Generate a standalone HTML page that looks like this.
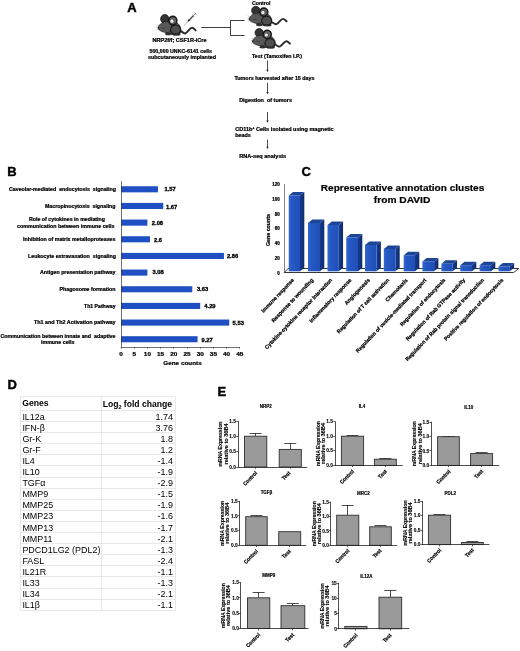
<!DOCTYPE html>
<html lang="en">
<head>
<meta charset="utf-8">
<title>Figure</title>
<style>
html,body{margin:0;padding:0;background:#fff;}
body{width:520px;height:651px;overflow:hidden;}
svg{display:block;font-family:'Liberation Sans', Arial, sans-serif;}
</style>
</head>
<body>
<svg width="520" height="651" viewBox="0 0 520 651" font-family="Liberation Sans, Arial, sans-serif">
<rect x="0" y="0" width="520" height="651" fill="#ffffff"/>
<g id="panelA">
<text x="127.30" y="12.20" font-size="13" font-weight="bold" text-anchor="start" fill="#000" stroke="#000" stroke-width="0.45" >A</text>
<g transform="translate(157.80 14.20) scale(1 1.05)">
<path d="M21.5 15.6 C24 15.8 25.6 19 27.6 18.2 C30.4 17 32 12.6 34.4 12.9 C36 13.1 36.8 14.4 37.8 15.4" fill="none" stroke="#2b2b2b" stroke-width="1.9" stroke-linecap="round"/>
<ellipse cx="7.0" cy="4.5" rx="4.2" ry="4.2" fill="#333" stroke="#111" stroke-width="0.7"/>
<path d="M9 8 C13 5.5 19 6.8 21.6 10.4 C23.6 13.2 23.6 17 21.6 19.2 L8 19.2 Z" fill="#585858" stroke="#1a1a1a" stroke-width="0.6"/>
<path d="M0.4 12.6 C1.6 9 5.6 6.8 9.4 7.2 C13.2 7.6 15 10.4 14.4 13.6 C13.8 16.8 10 18.2 6.4 17.2 C3.4 16.4 -0.2 15 0.4 12.6 Z" fill="#585858" stroke="#1a1a1a" stroke-width="0.6"/>
<ellipse cx="15.0" cy="6.1" rx="4.1" ry="4.1" fill="#606060" stroke="#151515" stroke-width="1.4"/>
<circle cx="14.1" cy="6.6" r="1.5" fill="#fff"/>
<circle cx="14.0" cy="6.8" r="0.5" fill="#aaa"/>
<ellipse cx="17.8" cy="14.8" rx="5.0" ry="4.5" fill="#4e4e4e" stroke="#111" stroke-width="1.0"/>
<ellipse cx="10.5" cy="18.9" rx="3" ry="1.0" fill="#333" stroke="#111" stroke-width="0.4"/>
<ellipse cx="18.5" cy="19.3" rx="4" ry="0.9" fill="#333" stroke="#111" stroke-width="0.4"/>
<circle cx="0.8" cy="13" r="0.8" fill="#111"/>
<path d="M4 12.6 C5 13.6 6.4 13.8 7.6 13.2" stroke="#222" stroke-width="0.5" fill="none"/>
<path d="M2.2 11.8 L-1.2 9.6 M2.2 12.6 L-1.6 12 M2.4 13.6 L-1 15" stroke="#555" stroke-width="0.3" fill="none"/>
</g>
<g fill="none"><line x1="184.2" y1="25.5" x2="188.4" y2="21" stroke="#555" stroke-width="0.45"/><line x1="188.2" y1="21.1" x2="189.4" y2="19.9" stroke="#1a1a1a" stroke-width="1.8"/><line x1="189.4" y1="19.9" x2="193.4" y2="15.7" stroke="#3c3c3c" stroke-width="1.7" stroke-dasharray="1.1 0.3"/><line x1="193.4" y1="15.7" x2="195.6" y2="13.5" stroke="#555" stroke-width="0.7"/><line x1="194.4" y1="12.7" x2="196.6" y2="14.7" stroke="#666" stroke-width="0.8"/><line x1="192.6" y1="14.7" x2="194.6" y2="16.6" stroke="#888" stroke-width="0.6"/></g>
<line x1="201.30" y1="27.50" x2="230.50" y2="27.50" stroke="#2a2a2a" stroke-width="0.9" />
<line x1="230.50" y1="20.10" x2="230.50" y2="35.90" stroke="#2a2a2a" stroke-width="0.9" />
<line x1="230.50" y1="20.50" x2="244.60" y2="20.50" stroke="#2a2a2a" stroke-width="0.9" />
<line x1="230.50" y1="35.50" x2="244.60" y2="35.50" stroke="#2a2a2a" stroke-width="0.9" />
<g transform="translate(248.80 6.00) scale(1 1.0)">
<path d="M21.5 15.6 C24 15.8 25.6 19 27.6 18.2 C30.4 17 32 12.6 34.4 12.9 C36 13.1 36.8 14.4 37.8 15.4" fill="none" stroke="#2b2b2b" stroke-width="1.9" stroke-linecap="round"/>
<ellipse cx="7.0" cy="4.5" rx="4.2" ry="4.2" fill="#333" stroke="#111" stroke-width="0.7"/>
<path d="M9 8 C13 5.5 19 6.8 21.6 10.4 C23.6 13.2 23.6 17 21.6 19.2 L8 19.2 Z" fill="#585858" stroke="#1a1a1a" stroke-width="0.6"/>
<path d="M0.4 12.6 C1.6 9 5.6 6.8 9.4 7.2 C13.2 7.6 15 10.4 14.4 13.6 C13.8 16.8 10 18.2 6.4 17.2 C3.4 16.4 -0.2 15 0.4 12.6 Z" fill="#585858" stroke="#1a1a1a" stroke-width="0.6"/>
<ellipse cx="15.0" cy="6.1" rx="4.1" ry="4.1" fill="#606060" stroke="#151515" stroke-width="1.4"/>
<circle cx="14.1" cy="6.6" r="1.5" fill="#fff"/>
<circle cx="14.0" cy="6.8" r="0.5" fill="#aaa"/>
<ellipse cx="17.8" cy="14.8" rx="5.0" ry="4.5" fill="#4e4e4e" stroke="#111" stroke-width="1.0"/>
<ellipse cx="10.5" cy="18.9" rx="3" ry="1.0" fill="#333" stroke="#111" stroke-width="0.4"/>
<ellipse cx="18.5" cy="19.3" rx="4" ry="0.9" fill="#333" stroke="#111" stroke-width="0.4"/>
<circle cx="0.8" cy="13" r="0.8" fill="#111"/>
<path d="M4 12.6 C5 13.6 6.4 13.8 7.6 13.2" stroke="#222" stroke-width="0.5" fill="none"/>
<path d="M2.2 11.8 L-1.2 9.6 M2.2 12.6 L-1.6 12 M2.4 13.6 L-1 15" stroke="#555" stroke-width="0.3" fill="none"/>
</g>
<g transform="translate(252.20 28.30) scale(1 1.0)">
<path d="M21.5 15.6 C24 15.8 25.6 19 27.6 18.2 C30.4 17 32 12.6 34.4 12.9 C36 13.1 36.8 14.4 37.8 15.4" fill="none" stroke="#2b2b2b" stroke-width="1.9" stroke-linecap="round"/>
<ellipse cx="7.0" cy="4.5" rx="4.2" ry="4.2" fill="#333" stroke="#111" stroke-width="0.7"/>
<path d="M9 8 C13 5.5 19 6.8 21.6 10.4 C23.6 13.2 23.6 17 21.6 19.2 L8 19.2 Z" fill="#585858" stroke="#1a1a1a" stroke-width="0.6"/>
<path d="M0.4 12.6 C1.6 9 5.6 6.8 9.4 7.2 C13.2 7.6 15 10.4 14.4 13.6 C13.8 16.8 10 18.2 6.4 17.2 C3.4 16.4 -0.2 15 0.4 12.6 Z" fill="#585858" stroke="#1a1a1a" stroke-width="0.6"/>
<ellipse cx="15.0" cy="6.1" rx="4.1" ry="4.1" fill="#606060" stroke="#151515" stroke-width="1.4"/>
<circle cx="14.1" cy="6.6" r="1.5" fill="#fff"/>
<circle cx="14.0" cy="6.8" r="0.5" fill="#aaa"/>
<ellipse cx="17.8" cy="14.8" rx="5.0" ry="4.5" fill="#4e4e4e" stroke="#111" stroke-width="1.0"/>
<ellipse cx="10.5" cy="18.9" rx="3" ry="1.0" fill="#333" stroke="#111" stroke-width="0.4"/>
<ellipse cx="18.5" cy="19.3" rx="4" ry="0.9" fill="#333" stroke="#111" stroke-width="0.4"/>
<circle cx="0.8" cy="13" r="0.8" fill="#111"/>
<path d="M4 12.6 C5 13.6 6.4 13.8 7.6 13.2" stroke="#222" stroke-width="0.5" fill="none"/>
<path d="M2.2 11.8 L-1.2 9.6 M2.2 12.6 L-1.6 12 M2.4 13.6 L-1 15" stroke="#555" stroke-width="0.3" fill="none"/>
</g>
<text x="252.00" y="4.60" font-size="4.95" font-weight="bold" text-anchor="start" fill="#000" stroke="#000" stroke-width="0.22" textLength="18.50" lengthAdjust="spacingAndGlyphs" >Control</text>
<text x="252.00" y="57.50" font-size="4.95" font-weight="bold" text-anchor="start" fill="#000" stroke="#000" stroke-width="0.22" textLength="50.00" lengthAdjust="spacingAndGlyphs" >Test (Tamoxifen I.P.)</text>
<text x="152.50" y="41.70" font-size="4.95" font-weight="bold" text-anchor="start" fill="#000" stroke="#000" stroke-width="0.22" textLength="54.00" lengthAdjust="spacingAndGlyphs" >NRP2f/f; CSF1R-iCre</text>
<text x="149.50" y="52.50" font-size="4.95" font-weight="bold" text-anchor="start" fill="#000" stroke="#000" stroke-width="0.22" textLength="62.50" lengthAdjust="spacingAndGlyphs" >500,000 UNKC-6141 cells</text>
<text x="148.00" y="59.10" font-size="4.95" font-weight="bold" text-anchor="start" fill="#000" stroke="#000" stroke-width="0.22" textLength="68.00" lengthAdjust="spacingAndGlyphs" >subcutaneously implanted</text>
<text x="234.50" y="79.60" font-size="4.95" font-weight="bold" text-anchor="start" fill="#000" stroke="#000" stroke-width="0.22" textLength="80.00" lengthAdjust="spacingAndGlyphs" >Tumors harvested after 15 days</text>
<text x="239.20" y="102.10" font-size="4.95" font-weight="bold" text-anchor="start" fill="#000" stroke="#000" stroke-width="0.22" textLength="52.80" lengthAdjust="spacingAndGlyphs" xml:space="preserve">Digestion  of tumors</text>
<text x="235.2" y="130.8" font-size="4.95" font-weight="bold" stroke="#000" stroke-width="0.22" textLength="98.5" lengthAdjust="spacingAndGlyphs">CD11b<tspan font-size="3.0" dy="-1.8">+</tspan><tspan dy="1.8"> Cells isolated using magnetic</tspan></text>
<text x="235.20" y="137.20" font-size="4.95" font-weight="bold" text-anchor="start" fill="#000" stroke="#000" stroke-width="0.22" textLength="15.60" lengthAdjust="spacingAndGlyphs" >beads</text>
<text x="239.20" y="158.00" font-size="4.95" font-weight="bold" text-anchor="start" fill="#000" stroke="#000" stroke-width="0.22" textLength="47.00" lengthAdjust="spacingAndGlyphs" >RNA-seq analysis</text>
<line x1="267.50" y1="60.50" x2="267.50" y2="70.80" stroke="#222" stroke-width="0.8" />
<path d="M266.30 69.70 L267.50 72.00 L268.70 69.70 Z" fill="#222"/>
<line x1="267.50" y1="82.80" x2="267.50" y2="93.00" stroke="#222" stroke-width="0.8" />
<path d="M266.30 91.90 L267.50 94.20 L268.70 91.90 Z" fill="#222"/>
<line x1="267.50" y1="112.00" x2="267.50" y2="121.50" stroke="#222" stroke-width="0.8" />
<path d="M266.30 120.40 L267.50 122.70 L268.70 120.40 Z" fill="#222"/>
<line x1="267.50" y1="139.60" x2="267.50" y2="147.80" stroke="#222" stroke-width="0.8" />
<path d="M266.30 146.70 L267.50 149.00 L268.70 146.70 Z" fill="#222"/>
</g>
<g id="panelB">
<text x="7.20" y="176.00" font-size="13" font-weight="bold" text-anchor="start" fill="#000" stroke="#000" stroke-width="0.4" >B</text>
<rect x="121.00" y="186.25" width="36.96" height="6.10" fill="#1f4fc2"/>
<text x="164.50" y="190.90" font-size="5.6" font-weight="bold" text-anchor="start" fill="#000" stroke="#000" stroke-width="0.3" textLength="11.30" lengthAdjust="spacingAndGlyphs" >1.57</text>
<text x="9.00" y="191.00" font-size="4.85" font-weight="bold" text-anchor="start" fill="#000" stroke="#000" stroke-width="0.22" textLength="107.00" lengthAdjust="spacingAndGlyphs" xml:space="preserve">Caveolar-mediated  endocytosis  signaling</text>
<rect x="121.00" y="202.91" width="42.24" height="6.10" fill="#1f4fc2"/>
<text x="166.00" y="208.90" font-size="5.6" font-weight="bold" text-anchor="start" fill="#000" stroke="#000" stroke-width="0.3" textLength="11.30" lengthAdjust="spacingAndGlyphs" >1.67</text>
<text x="45.00" y="207.66" font-size="4.85" font-weight="bold" text-anchor="start" fill="#000" stroke="#000" stroke-width="0.22" textLength="70.50" lengthAdjust="spacingAndGlyphs" xml:space="preserve">Macropinocytosis  signaling</text>
<rect x="121.00" y="219.57" width="26.40" height="6.10" fill="#1f4fc2"/>
<text x="151.80" y="225.40" font-size="5.6" font-weight="bold" text-anchor="start" fill="#000" stroke="#000" stroke-width="0.3" textLength="11.30" lengthAdjust="spacingAndGlyphs" >2.08</text>
<text x="29.00" y="221.42" font-size="4.85" font-weight="bold" text-anchor="start" fill="#000" stroke="#000" stroke-width="0.22" textLength="76.00" lengthAdjust="spacingAndGlyphs" xml:space="preserve">Role of cytokines in mediating</text>
<text x="17.00" y="227.62" font-size="4.85" font-weight="bold" text-anchor="start" fill="#000" stroke="#000" stroke-width="0.22" textLength="97.50" lengthAdjust="spacingAndGlyphs" xml:space="preserve">communication between immune cells</text>
<rect x="121.00" y="236.23" width="29.04" height="6.10" fill="#1f4fc2"/>
<text x="154.00" y="241.70" font-size="5.6" font-weight="bold" text-anchor="start" fill="#000" stroke="#000" stroke-width="0.3" textLength="7.90" lengthAdjust="spacingAndGlyphs" >2.6</text>
<text x="23.00" y="240.98" font-size="4.85" font-weight="bold" text-anchor="start" fill="#000" stroke="#000" stroke-width="0.22" textLength="92.50" lengthAdjust="spacingAndGlyphs" xml:space="preserve">Inhibition of matrix metalloproteases</text>
<rect x="121.00" y="252.89" width="102.96" height="6.10" fill="#1f4fc2"/>
<text x="226.90" y="257.50" font-size="5.6" font-weight="bold" text-anchor="start" fill="#000" stroke="#000" stroke-width="0.3" textLength="11.30" lengthAdjust="spacingAndGlyphs" >2.86</text>
<text x="28.00" y="257.64" font-size="4.85" font-weight="bold" text-anchor="start" fill="#000" stroke="#000" stroke-width="0.22" textLength="88.00" lengthAdjust="spacingAndGlyphs" xml:space="preserve">Leukocyte extravasation  signaling</text>
<rect x="121.00" y="269.55" width="26.40" height="6.10" fill="#1f4fc2"/>
<text x="152.50" y="274.20" font-size="5.6" font-weight="bold" text-anchor="start" fill="#000" stroke="#000" stroke-width="0.3" textLength="11.30" lengthAdjust="spacingAndGlyphs" >3.08</text>
<text x="40.00" y="274.30" font-size="4.85" font-weight="bold" text-anchor="start" fill="#000" stroke="#000" stroke-width="0.22" textLength="75.50" lengthAdjust="spacingAndGlyphs" xml:space="preserve">Antigen presentation pathway</text>
<rect x="121.00" y="286.21" width="71.28" height="6.10" fill="#1f4fc2"/>
<text x="196.90" y="291.10" font-size="5.6" font-weight="bold" text-anchor="start" fill="#000" stroke="#000" stroke-width="0.3" textLength="11.30" lengthAdjust="spacingAndGlyphs" >3.63</text>
<text x="59.50" y="290.96" font-size="4.85" font-weight="bold" text-anchor="start" fill="#000" stroke="#000" stroke-width="0.22" textLength="56.00" lengthAdjust="spacingAndGlyphs" xml:space="preserve">Phagosome formation</text>
<rect x="121.00" y="302.87" width="79.20" height="6.10" fill="#1f4fc2"/>
<text x="204.30" y="308.00" font-size="5.6" font-weight="bold" text-anchor="start" fill="#000" stroke="#000" stroke-width="0.3" textLength="11.30" lengthAdjust="spacingAndGlyphs" >4.29</text>
<text x="84.00" y="307.62" font-size="4.85" font-weight="bold" text-anchor="start" fill="#000" stroke="#000" stroke-width="0.22" textLength="31.50" lengthAdjust="spacingAndGlyphs" xml:space="preserve">Th1 Pathway</text>
<rect x="121.00" y="319.53" width="108.24" height="6.10" fill="#1f4fc2"/>
<text x="232.60" y="325.30" font-size="5.6" font-weight="bold" text-anchor="start" fill="#000" stroke="#000" stroke-width="0.3" textLength="11.30" lengthAdjust="spacingAndGlyphs" >5.53</text>
<text x="34.00" y="324.28" font-size="4.85" font-weight="bold" text-anchor="start" fill="#000" stroke="#000" stroke-width="0.22" textLength="81.50" lengthAdjust="spacingAndGlyphs" xml:space="preserve">Th1 and Th2 Activation pathway</text>
<rect x="121.00" y="336.19" width="76.56" height="6.10" fill="#1f4fc2"/>
<text x="201.50" y="341.90" font-size="5.6" font-weight="bold" text-anchor="start" fill="#000" stroke="#000" stroke-width="0.3" textLength="11.30" lengthAdjust="spacingAndGlyphs" >9.27</text>
<text x="0.50" y="338.04" font-size="4.85" font-weight="bold" text-anchor="start" fill="#000" stroke="#000" stroke-width="0.22" textLength="115.00" lengthAdjust="spacingAndGlyphs" xml:space="preserve">Communication between innate and  adaptive</text>
<text x="41.00" y="344.24" font-size="4.85" font-weight="bold" text-anchor="start" fill="#000" stroke="#000" stroke-width="0.22" textLength="33.50" lengthAdjust="spacingAndGlyphs" xml:space="preserve">immune cells</text>
<line x1="121.50" y1="181.20" x2="121.50" y2="347.30" stroke="#333" stroke-width="0.7" />
<line x1="120.70" y1="347.50" x2="240.00" y2="347.50" stroke="#333" stroke-width="0.7" />
<line x1="121.50" y1="347.30" x2="121.50" y2="349.00" stroke="#333" stroke-width="0.5" />
<text x="121.00" y="355.60" font-size="5.8" font-weight="bold" text-anchor="middle" fill="#000" stroke="#000" stroke-width="0.22" textLength="3.55" lengthAdjust="spacingAndGlyphs" >0</text>
<line x1="134.50" y1="347.30" x2="134.50" y2="349.00" stroke="#333" stroke-width="0.5" />
<text x="134.20" y="355.60" font-size="5.8" font-weight="bold" text-anchor="middle" fill="#000" stroke="#000" stroke-width="0.22" textLength="3.55" lengthAdjust="spacingAndGlyphs" >5</text>
<line x1="147.50" y1="347.30" x2="147.50" y2="349.00" stroke="#333" stroke-width="0.5" />
<text x="147.40" y="355.60" font-size="5.8" font-weight="bold" text-anchor="middle" fill="#000" stroke="#000" stroke-width="0.22" textLength="7.10" lengthAdjust="spacingAndGlyphs" >10</text>
<line x1="160.50" y1="347.30" x2="160.50" y2="349.00" stroke="#333" stroke-width="0.5" />
<text x="160.60" y="355.60" font-size="5.8" font-weight="bold" text-anchor="middle" fill="#000" stroke="#000" stroke-width="0.22" textLength="7.10" lengthAdjust="spacingAndGlyphs" >15</text>
<line x1="173.50" y1="347.30" x2="173.50" y2="349.00" stroke="#333" stroke-width="0.5" />
<text x="173.80" y="355.60" font-size="5.8" font-weight="bold" text-anchor="middle" fill="#000" stroke="#000" stroke-width="0.22" textLength="7.10" lengthAdjust="spacingAndGlyphs" >20</text>
<line x1="187.50" y1="347.30" x2="187.50" y2="349.00" stroke="#333" stroke-width="0.5" />
<text x="187.00" y="355.60" font-size="5.8" font-weight="bold" text-anchor="middle" fill="#000" stroke="#000" stroke-width="0.22" textLength="7.10" lengthAdjust="spacingAndGlyphs" >25</text>
<line x1="200.50" y1="347.30" x2="200.50" y2="349.00" stroke="#333" stroke-width="0.5" />
<text x="200.20" y="355.60" font-size="5.8" font-weight="bold" text-anchor="middle" fill="#000" stroke="#000" stroke-width="0.22" textLength="7.10" lengthAdjust="spacingAndGlyphs" >30</text>
<line x1="213.50" y1="347.30" x2="213.50" y2="349.00" stroke="#333" stroke-width="0.5" />
<text x="213.40" y="355.60" font-size="5.8" font-weight="bold" text-anchor="middle" fill="#000" stroke="#000" stroke-width="0.22" textLength="7.10" lengthAdjust="spacingAndGlyphs" >35</text>
<line x1="226.50" y1="347.30" x2="226.50" y2="349.00" stroke="#333" stroke-width="0.5" />
<text x="226.60" y="355.60" font-size="5.8" font-weight="bold" text-anchor="middle" fill="#000" stroke="#000" stroke-width="0.22" textLength="7.10" lengthAdjust="spacingAndGlyphs" >40</text>
<line x1="239.50" y1="347.30" x2="239.50" y2="349.00" stroke="#333" stroke-width="0.5" />
<text x="239.80" y="355.60" font-size="5.8" font-weight="bold" text-anchor="middle" fill="#000" stroke="#000" stroke-width="0.22" textLength="7.10" lengthAdjust="spacingAndGlyphs" >45</text>
<text x="163.20" y="365.20" font-size="6.2" font-weight="bold" text-anchor="start" fill="#000" stroke="#000" stroke-width="0.22" textLength="38.60" lengthAdjust="spacingAndGlyphs" >Gene counts</text>
</g>
<g id="panelC">
<text x="301.50" y="176.20" font-size="13" font-weight="bold" text-anchor="start" fill="#000" stroke="#000" stroke-width="0.4" >C</text>
<defs>
<linearGradient id="gf" x1="0" x2="1" y1="0" y2="0"><stop offset="0" stop-color="#3168d2"/><stop offset="0.25" stop-color="#2659c4"/><stop offset="1" stop-color="#1f4fb8"/></linearGradient>
<linearGradient id="gs" x1="0" x2="1" y1="0" y2="0"><stop offset="0" stop-color="#153a8c"/><stop offset="1" stop-color="#0f2c6e"/></linearGradient>
</defs>
<text x="320.80" y="191.10" font-size="8.9" font-weight="bold" text-anchor="start" fill="#000" stroke="#000" stroke-width="0.2" textLength="163.50" lengthAdjust="spacingAndGlyphs" >Representative annotation clustes</text>
<text x="373.80" y="203.10" font-size="8.9" font-weight="bold" text-anchor="start" fill="#000" stroke="#000" stroke-width="0.2" textLength="56.50" lengthAdjust="spacingAndGlyphs" >from DAVID</text>
<line x1="284.50" y1="184.00" x2="284.50" y2="272.50" stroke="#666" stroke-width="0.8" />
<text x="279.80" y="274.50" font-size="4.5" font-weight="bold" text-anchor="end" fill="#000" stroke="#000" stroke-width="0.22" >0</text>
<text x="279.80" y="259.78" font-size="4.5" font-weight="bold" text-anchor="end" fill="#000" stroke="#000" stroke-width="0.22" >20</text>
<text x="279.80" y="245.06" font-size="4.5" font-weight="bold" text-anchor="end" fill="#000" stroke="#000" stroke-width="0.22" >40</text>
<text x="279.80" y="230.34" font-size="4.5" font-weight="bold" text-anchor="end" fill="#000" stroke="#000" stroke-width="0.22" >60</text>
<text x="279.80" y="215.62" font-size="4.5" font-weight="bold" text-anchor="end" fill="#000" stroke="#000" stroke-width="0.22" >80</text>
<text x="279.80" y="200.90" font-size="4.5" font-weight="bold" text-anchor="end" fill="#000" stroke="#000" stroke-width="0.22" >100</text>
<text x="279.80" y="186.18" font-size="4.5" font-weight="bold" text-anchor="end" fill="#000" stroke="#000" stroke-width="0.22" >120</text>
<text x="269.80" y="230.00" font-size="5.0" font-weight="bold" text-anchor="middle" fill="#000" stroke="#000" stroke-width="0.22" textLength="32.00" lengthAdjust="spacingAndGlyphs" transform="rotate(-90 269.80 230.00)" >Gene counts</text>
<path d="M284.2 272.5 L288.2 268.5 L518.8 268.5 L513.6 272.5 Z" fill="#fdfdfd" stroke="#222" stroke-width="0.9" stroke-linejoin="round"/>
<path d="M300.00 195.50 L304.30 192.00 L304.30 267.80 L300.00 271.30 Z" fill="url(#gs)"/>
<path d="M288.75 195.50 L293.05 192.00 L304.30 192.00 L300.00 195.50 Z" fill="#1d4596"/>
<rect x="288.75" y="195.50" width="11.25" height="75.80" fill="url(#gf)"/>
<path d="M320.00 223.00 L324.30 219.50 L324.30 267.80 L320.00 271.30 Z" fill="url(#gs)"/>
<path d="M308.00 223.00 L312.30 219.50 L324.30 219.50 L320.00 223.00 Z" fill="#1d4596"/>
<rect x="308.00" y="223.00" width="12.00" height="48.30" fill="url(#gf)"/>
<path d="M338.75 225.00 L343.05 221.50 L343.05 267.80 L338.75 271.30 Z" fill="url(#gs)"/>
<path d="M327.50 225.00 L331.80 221.50 L343.05 221.50 L338.75 225.00 Z" fill="#1d4596"/>
<rect x="327.50" y="225.00" width="11.25" height="46.30" fill="url(#gf)"/>
<path d="M358.00 237.50 L362.30 234.00 L362.30 267.80 L358.00 271.30 Z" fill="url(#gs)"/>
<path d="M346.25 237.50 L350.55 234.00 L362.30 234.00 L358.00 237.50 Z" fill="#1d4596"/>
<rect x="346.25" y="237.50" width="11.75" height="33.80" fill="url(#gf)"/>
<path d="M376.60 245.00 L380.90 241.50 L380.90 267.80 L376.60 271.30 Z" fill="url(#gs)"/>
<path d="M365.00 245.00 L369.30 241.50 L380.90 241.50 L376.60 245.00 Z" fill="#1d4596"/>
<rect x="365.00" y="245.00" width="11.60" height="26.30" fill="url(#gf)"/>
<path d="M395.40 249.00 L399.70 245.50 L399.70 267.80 L395.40 271.30 Z" fill="url(#gs)"/>
<path d="M383.80 249.00 L388.10 245.50 L399.70 245.50 L395.40 249.00 Z" fill="#1d4596"/>
<rect x="383.80" y="249.00" width="11.60" height="22.30" fill="url(#gf)"/>
<path d="M415.00 255.20 L419.30 251.70 L419.30 267.80 L415.00 271.30 Z" fill="url(#gs)"/>
<path d="M403.70 255.20 L408.00 251.70 L419.30 251.70 L415.00 255.20 Z" fill="#1d4596"/>
<rect x="403.70" y="255.20" width="11.30" height="16.10" fill="url(#gf)"/>
<path d="M434.10 261.40 L438.40 257.90 L438.40 267.80 L434.10 271.30 Z" fill="url(#gs)"/>
<path d="M422.40 261.40 L426.70 257.90 L438.40 257.90 L434.10 261.40 Z" fill="#1d4596"/>
<rect x="422.40" y="261.40" width="11.70" height="9.90" fill="url(#gf)"/>
<path d="M452.70 263.80 L457.00 260.30 L457.00 267.80 L452.70 271.30 Z" fill="url(#gs)"/>
<path d="M441.40 263.80 L445.70 260.30 L457.00 260.30 L452.70 263.80 Z" fill="#1d4596"/>
<rect x="441.40" y="263.80" width="11.30" height="7.50" fill="url(#gf)"/>
<path d="M472.00 265.20 L476.30 261.70 L476.30 267.80 L472.00 271.30 Z" fill="url(#gs)"/>
<path d="M460.20 265.20 L464.50 261.70 L476.30 261.70 L472.00 265.20 Z" fill="#1d4596"/>
<rect x="460.20" y="265.20" width="11.80" height="6.10" fill="url(#gf)"/>
<path d="M491.00 265.20 L495.30 261.70 L495.30 267.80 L491.00 271.30 Z" fill="url(#gs)"/>
<path d="M479.60 265.20 L483.90 261.70 L495.30 261.70 L491.00 265.20 Z" fill="#1d4596"/>
<rect x="479.60" y="265.20" width="11.40" height="6.10" fill="url(#gf)"/>
<path d="M509.80 266.50 L514.10 263.00 L514.10 267.80 L509.80 271.30 Z" fill="url(#gs)"/>
<path d="M498.50 266.50 L502.80 263.00 L514.10 263.00 L509.80 266.50 Z" fill="#1d4596"/>
<rect x="498.50" y="266.50" width="11.30" height="4.80" fill="url(#gf)"/>
<text x="294.30" y="280.50" font-size="5.3" font-weight="bold" stroke="#000" stroke-width="0.25" text-anchor="end" textLength="44.8" lengthAdjust="spacingAndGlyphs" transform="rotate(-46.5 294.30 280.50)">Immune response</text>
<text x="313.70" y="280.50" font-size="5.3" font-weight="bold" stroke="#000" stroke-width="0.25" text-anchor="end" textLength="58.1" lengthAdjust="spacingAndGlyphs" transform="rotate(-46.5 313.70 280.50)">Response to wounding</text>
<text x="332.50" y="280.50" font-size="5.3" font-weight="bold" stroke="#000" stroke-width="0.25" text-anchor="end" textLength="95.0" lengthAdjust="spacingAndGlyphs" transform="rotate(-46.5 332.50 280.50)">Cytokine-cytokine receptor interaction</text>
<text x="351.80" y="280.50" font-size="5.3" font-weight="bold" stroke="#000" stroke-width="0.25" text-anchor="end" textLength="58.6" lengthAdjust="spacingAndGlyphs" transform="rotate(-46.5 351.80 280.50)">Inflammatory response</text>
<text x="370.20" y="280.50" font-size="5.3" font-weight="bold" stroke="#000" stroke-width="0.25" text-anchor="end" textLength="34.1" lengthAdjust="spacingAndGlyphs" transform="rotate(-46.5 370.20 280.50)">Angiogenesis</text>
<text x="389.60" y="280.50" font-size="5.3" font-weight="bold" stroke="#000" stroke-width="0.25" text-anchor="end" textLength="73.4" lengthAdjust="spacingAndGlyphs" transform="rotate(-46.5 389.60 280.50)">Regulation of T cell activation</text>
<text x="408.10" y="280.50" font-size="5.3" font-weight="bold" stroke="#000" stroke-width="0.25" text-anchor="end" textLength="29.8" lengthAdjust="spacingAndGlyphs" transform="rotate(-46.5 408.10 280.50)">Chemotaxis</text>
<text x="426.80" y="280.50" font-size="5.3" font-weight="bold" stroke="#000" stroke-width="0.25" text-anchor="end" textLength="99.8" lengthAdjust="spacingAndGlyphs" transform="rotate(-46.5 426.80 280.50)">Regulation of vesicle-mediated transport</text>
<text x="445.80" y="280.50" font-size="5.3" font-weight="bold" stroke="#000" stroke-width="0.25" text-anchor="end" textLength="63.4" lengthAdjust="spacingAndGlyphs" transform="rotate(-46.5 445.80 280.50)">Regulation of endocytosis</text>
<text x="465.40" y="280.50" font-size="5.3" font-weight="bold" stroke="#000" stroke-width="0.25" text-anchor="end" textLength="83.5" lengthAdjust="spacingAndGlyphs" transform="rotate(-46.5 465.40 280.50)">Regulation of Rab GTPase activity</text>
<text x="484.30" y="280.50" font-size="5.3" font-weight="bold" stroke="#000" stroke-width="0.25" text-anchor="end" textLength="111.4" lengthAdjust="spacingAndGlyphs" transform="rotate(-46.5 484.30 280.50)">Regulation of Rab protein signal transduction</text>
<text x="503.70" y="280.50" font-size="5.3" font-weight="bold" stroke="#000" stroke-width="0.25" text-anchor="end" textLength="83.5" lengthAdjust="spacingAndGlyphs" transform="rotate(-46.5 503.70 280.50)">Positive regulation of endocytosis</text>
</g>
<g id="panelD">
<text x="7.50" y="388.90" font-size="13" font-weight="bold" text-anchor="start" fill="#000" stroke="#000" stroke-width="0.4" >D</text>
<line x1="20.20" y1="396.50" x2="175.40" y2="396.50" stroke="#d9d9d9" stroke-width="0.6" />
<line x1="20.20" y1="410.50" x2="175.40" y2="410.50" stroke="#d9d9d9" stroke-width="0.6" />
<line x1="20.20" y1="421.50" x2="175.40" y2="421.50" stroke="#d9d9d9" stroke-width="0.6" />
<line x1="20.20" y1="432.50" x2="175.40" y2="432.50" stroke="#d9d9d9" stroke-width="0.6" />
<line x1="20.20" y1="443.50" x2="175.40" y2="443.50" stroke="#d9d9d9" stroke-width="0.6" />
<line x1="20.20" y1="454.50" x2="175.40" y2="454.50" stroke="#d9d9d9" stroke-width="0.6" />
<line x1="20.20" y1="465.50" x2="175.40" y2="465.50" stroke="#d9d9d9" stroke-width="0.6" />
<line x1="20.20" y1="477.50" x2="175.40" y2="477.50" stroke="#d9d9d9" stroke-width="0.6" />
<line x1="20.20" y1="488.50" x2="175.40" y2="488.50" stroke="#d9d9d9" stroke-width="0.6" />
<line x1="20.20" y1="499.50" x2="175.40" y2="499.50" stroke="#d9d9d9" stroke-width="0.6" />
<line x1="20.20" y1="510.50" x2="175.40" y2="510.50" stroke="#d9d9d9" stroke-width="0.6" />
<line x1="20.20" y1="521.50" x2="175.40" y2="521.50" stroke="#d9d9d9" stroke-width="0.6" />
<line x1="20.20" y1="532.50" x2="175.40" y2="532.50" stroke="#d9d9d9" stroke-width="0.6" />
<line x1="20.20" y1="543.50" x2="175.40" y2="543.50" stroke="#d9d9d9" stroke-width="0.6" />
<line x1="20.20" y1="554.50" x2="175.40" y2="554.50" stroke="#d9d9d9" stroke-width="0.6" />
<line x1="20.20" y1="565.50" x2="175.40" y2="565.50" stroke="#d9d9d9" stroke-width="0.6" />
<line x1="20.20" y1="576.50" x2="175.40" y2="576.50" stroke="#d9d9d9" stroke-width="0.6" />
<line x1="20.20" y1="588.50" x2="175.40" y2="588.50" stroke="#d9d9d9" stroke-width="0.6" />
<line x1="20.20" y1="599.50" x2="175.40" y2="599.50" stroke="#d9d9d9" stroke-width="0.6" />
<line x1="20.20" y1="610.50" x2="175.40" y2="610.50" stroke="#d9d9d9" stroke-width="0.6" />
<line x1="20.50" y1="396.40" x2="20.50" y2="610.20" stroke="#d9d9d9" stroke-width="0.6" />
<line x1="101.50" y1="396.40" x2="101.50" y2="610.20" stroke="#d9d9d9" stroke-width="0.6" />
<line x1="175.50" y1="396.40" x2="175.50" y2="610.20" stroke="#d9d9d9" stroke-width="0.6" />
<text x="22.20" y="406.40" font-size="8.8" font-weight="bold" text-anchor="start" fill="#000" textLength="26.50" lengthAdjust="spacingAndGlyphs" >Genes</text>
<text x="102.7" y="407.4" font-size="8.8" font-weight="bold" textLength="69.4" lengthAdjust="spacingAndGlyphs">Log<tspan font-size="5.6" dy="1.6">2</tspan><tspan dy="-1.6"> fold change</tspan></text>
<text x="22.40" y="419.50" font-size="8.95" font-weight="normal" text-anchor="start" fill="#000" >IL12a</text>
<text x="173.00" y="419.50" font-size="8.95" font-weight="normal" text-anchor="end" fill="#000" >1.74</text>
<text x="22.40" y="430.60" font-size="8.95" font-weight="normal" text-anchor="start" fill="#000" >IFN-β</text>
<text x="173.00" y="430.60" font-size="8.95" font-weight="normal" text-anchor="end" fill="#000" >3.76</text>
<text x="22.40" y="441.70" font-size="8.95" font-weight="normal" text-anchor="start" fill="#000" >Gr-K</text>
<text x="173.00" y="441.70" font-size="8.95" font-weight="normal" text-anchor="end" fill="#000" >1.8</text>
<text x="22.40" y="452.80" font-size="8.95" font-weight="normal" text-anchor="start" fill="#000" >Gr-F</text>
<text x="173.00" y="452.80" font-size="8.95" font-weight="normal" text-anchor="end" fill="#000" >1.2</text>
<text x="22.40" y="463.90" font-size="8.95" font-weight="normal" text-anchor="start" fill="#000" >IL4</text>
<text x="173.00" y="463.90" font-size="8.95" font-weight="normal" text-anchor="end" fill="#000" >-1.4</text>
<text x="22.40" y="475.00" font-size="8.95" font-weight="normal" text-anchor="start" fill="#000" >IL10</text>
<text x="173.00" y="475.00" font-size="8.95" font-weight="normal" text-anchor="end" fill="#000" >-1.9</text>
<text x="22.40" y="486.10" font-size="8.95" font-weight="normal" text-anchor="start" fill="#000" >TGFα</text>
<text x="173.00" y="486.10" font-size="8.95" font-weight="normal" text-anchor="end" fill="#000" >-2.9</text>
<text x="22.40" y="497.20" font-size="8.95" font-weight="normal" text-anchor="start" fill="#000" >MMP9</text>
<text x="173.00" y="497.20" font-size="8.95" font-weight="normal" text-anchor="end" fill="#000" >-1.5</text>
<text x="22.40" y="508.30" font-size="8.95" font-weight="normal" text-anchor="start" fill="#000" >MMP25</text>
<text x="173.00" y="508.30" font-size="8.95" font-weight="normal" text-anchor="end" fill="#000" >-1.9</text>
<text x="22.40" y="519.40" font-size="8.95" font-weight="normal" text-anchor="start" fill="#000" >MMP23</text>
<text x="173.00" y="519.40" font-size="8.95" font-weight="normal" text-anchor="end" fill="#000" >-1.6</text>
<text x="22.40" y="530.50" font-size="8.95" font-weight="normal" text-anchor="start" fill="#000" >MMP13</text>
<text x="173.00" y="530.50" font-size="8.95" font-weight="normal" text-anchor="end" fill="#000" >-1.7</text>
<text x="22.40" y="541.60" font-size="8.95" font-weight="normal" text-anchor="start" fill="#000" >MMP11</text>
<text x="173.00" y="541.60" font-size="8.95" font-weight="normal" text-anchor="end" fill="#000" >-2.1</text>
<text x="22.40" y="552.70" font-size="8.95" font-weight="normal" text-anchor="start" fill="#000" >PDCD1LG2 (PDL2)</text>
<text x="173.00" y="552.70" font-size="8.95" font-weight="normal" text-anchor="end" fill="#000" >-1.3</text>
<text x="22.40" y="563.80" font-size="8.95" font-weight="normal" text-anchor="start" fill="#000" >FASL</text>
<text x="173.00" y="563.80" font-size="8.95" font-weight="normal" text-anchor="end" fill="#000" >-2.4</text>
<text x="22.40" y="574.90" font-size="8.95" font-weight="normal" text-anchor="start" fill="#000" >IL21R</text>
<text x="173.00" y="574.90" font-size="8.95" font-weight="normal" text-anchor="end" fill="#000" >-1.1</text>
<text x="22.40" y="586.00" font-size="8.95" font-weight="normal" text-anchor="start" fill="#000" >IL33</text>
<text x="173.00" y="586.00" font-size="8.95" font-weight="normal" text-anchor="end" fill="#000" >-1.3</text>
<text x="22.40" y="597.10" font-size="8.95" font-weight="normal" text-anchor="start" fill="#000" >IL34</text>
<text x="173.00" y="597.10" font-size="8.95" font-weight="normal" text-anchor="end" fill="#000" >-2.1</text>
<text x="22.40" y="608.20" font-size="8.95" font-weight="normal" text-anchor="start" fill="#000" >IL1β</text>
<text x="173.00" y="608.20" font-size="8.95" font-weight="normal" text-anchor="end" fill="#000" >-1.1</text>
</g>
<g id="panelE">
<text x="217.40" y="395.80" font-size="13" font-weight="bold" text-anchor="start" fill="#000" stroke="#000" stroke-width="0.4" >E</text>
<text x="265.80" y="408.10" font-size="4.5" font-weight="bold" text-anchor="middle" fill="#000" stroke="#000" stroke-width="0.15" >NRP2</text>
<line x1="255.50" y1="433.00" x2="255.50" y2="436.00" stroke="#222" stroke-width="0.8" />
<line x1="249.65" y1="433.50" x2="261.65" y2="433.50" stroke="#222" stroke-width="0.8" />
<rect x="244.50" y="436.20" width="22.30" height="30.80" fill="#9a9a9a" stroke="#2e2e2e" stroke-width="0.9"/>
<line x1="255.50" y1="467.00" x2="255.50" y2="468.80" stroke="#222" stroke-width="0.7" />
<line x1="290.50" y1="443.00" x2="290.50" y2="449.20" stroke="#222" stroke-width="0.8" />
<line x1="284.25" y1="443.50" x2="296.25" y2="443.50" stroke="#222" stroke-width="0.8" />
<rect x="279.20" y="449.40" width="22.10" height="17.60" fill="#9a9a9a" stroke="#2e2e2e" stroke-width="0.9"/>
<line x1="290.50" y1="467.00" x2="290.50" y2="468.80" stroke="#222" stroke-width="0.7" />
<line x1="238.50" y1="420.70" x2="238.50" y2="467.40" stroke="#222" stroke-width="0.8" />
<line x1="237.70" y1="467.50" x2="307.30" y2="467.50" stroke="#222" stroke-width="0.8" />
<line x1="236.20" y1="467.50" x2="238.00" y2="467.50" stroke="#222" stroke-width="0.7" />
<text x="236.00" y="468.70" font-size="4.8" font-weight="bold" text-anchor="end" fill="#000" stroke="#000" stroke-width="0.12" >0.0</text>
<line x1="236.20" y1="451.50" x2="238.00" y2="451.50" stroke="#222" stroke-width="0.7" />
<text x="236.00" y="453.37" font-size="4.8" font-weight="bold" text-anchor="end" fill="#000" stroke="#000" stroke-width="0.12" >0.5</text>
<line x1="236.20" y1="436.50" x2="238.00" y2="436.50" stroke="#222" stroke-width="0.7" />
<text x="236.00" y="438.03" font-size="4.8" font-weight="bold" text-anchor="end" fill="#000" stroke="#000" stroke-width="0.12" >1.0</text>
<line x1="236.20" y1="421.50" x2="238.00" y2="421.50" stroke="#222" stroke-width="0.7" />
<text x="236.00" y="422.70" font-size="4.8" font-weight="bold" text-anchor="end" fill="#000" stroke="#000" stroke-width="0.12" >1.5</text>
<text x="222.30" y="444.00" font-size="5.1" font-weight="bold" text-anchor="middle" fill="#000" stroke="#000" stroke-width="0.12" textLength="45.00" lengthAdjust="spacingAndGlyphs" transform="rotate(-90 222.30 444.00)" >mRNA Expression</text>
<text x="227.70" y="444.00" font-size="5.1" font-weight="bold" text-anchor="middle" fill="#000" stroke="#000" stroke-width="0.12" textLength="41.00" lengthAdjust="spacingAndGlyphs" transform="rotate(-90 227.70 444.00)" >relative to 36B4</text>
<text x="257.70" y="473.50" font-size="5.5" font-weight="bold" stroke="#000" stroke-width="0.2" text-anchor="end" textLength="17.6" lengthAdjust="spacingAndGlyphs" transform="rotate(-45 257.70 473.50)">Control</text>
<text x="290.90" y="473.50" font-size="5.5" font-weight="bold" stroke="#000" stroke-width="0.2" text-anchor="end" textLength="9.9" lengthAdjust="spacingAndGlyphs" transform="rotate(-45 290.90 473.50)">Test</text>
<text x="362.00" y="407.60" font-size="4.5" font-weight="bold" text-anchor="middle" fill="#000" stroke="#000" stroke-width="0.15" >IL4</text>
<line x1="352.50" y1="435.30" x2="352.50" y2="436.00" stroke="#222" stroke-width="0.8" />
<line x1="346.50" y1="435.50" x2="358.50" y2="435.50" stroke="#222" stroke-width="0.8" />
<rect x="341.40" y="436.20" width="22.20" height="29.20" fill="#9a9a9a" stroke="#2e2e2e" stroke-width="0.9"/>
<line x1="352.50" y1="465.40" x2="352.50" y2="467.20" stroke="#222" stroke-width="0.7" />
<line x1="385.50" y1="458.00" x2="385.50" y2="459.00" stroke="#222" stroke-width="0.8" />
<line x1="379.35" y1="458.50" x2="391.35" y2="458.50" stroke="#222" stroke-width="0.8" />
<rect x="374.40" y="459.20" width="21.90" height="6.20" fill="#9a9a9a" stroke="#2e2e2e" stroke-width="0.9"/>
<line x1="385.50" y1="465.40" x2="385.50" y2="467.20" stroke="#222" stroke-width="0.7" />
<line x1="335.50" y1="421.20" x2="335.50" y2="465.80" stroke="#222" stroke-width="0.8" />
<line x1="334.70" y1="465.50" x2="402.80" y2="465.50" stroke="#222" stroke-width="0.8" />
<line x1="333.20" y1="465.50" x2="335.00" y2="465.50" stroke="#222" stroke-width="0.7" />
<text x="333.00" y="467.10" font-size="4.8" font-weight="bold" text-anchor="end" fill="#000" stroke="#000" stroke-width="0.12" >0.0</text>
<line x1="333.20" y1="450.50" x2="335.00" y2="450.50" stroke="#222" stroke-width="0.7" />
<text x="333.00" y="452.47" font-size="4.8" font-weight="bold" text-anchor="end" fill="#000" stroke="#000" stroke-width="0.12" >0.5</text>
<line x1="333.20" y1="436.50" x2="335.00" y2="436.50" stroke="#222" stroke-width="0.7" />
<text x="333.00" y="437.83" font-size="4.8" font-weight="bold" text-anchor="end" fill="#000" stroke="#000" stroke-width="0.12" >1.0</text>
<line x1="333.20" y1="421.50" x2="335.00" y2="421.50" stroke="#222" stroke-width="0.7" />
<text x="333.00" y="423.20" font-size="4.8" font-weight="bold" text-anchor="end" fill="#000" stroke="#000" stroke-width="0.12" >1.5</text>
<text x="319.80" y="443.45" font-size="5.1" font-weight="bold" text-anchor="middle" fill="#000" stroke="#000" stroke-width="0.12" textLength="45.00" lengthAdjust="spacingAndGlyphs" transform="rotate(-90 319.80 443.45)" >mRNA Expression</text>
<text x="325.20" y="443.45" font-size="5.1" font-weight="bold" text-anchor="middle" fill="#000" stroke="#000" stroke-width="0.12" textLength="41.00" lengthAdjust="spacingAndGlyphs" transform="rotate(-90 325.20 443.45)" >relative to 36B4</text>
<text x="354.50" y="471.90" font-size="5.5" font-weight="bold" stroke="#000" stroke-width="0.2" text-anchor="end" textLength="17.6" lengthAdjust="spacingAndGlyphs" transform="rotate(-45 354.50 471.90)">Control</text>
<text x="387.30" y="471.90" font-size="5.5" font-weight="bold" stroke="#000" stroke-width="0.2" text-anchor="end" textLength="9.9" lengthAdjust="spacingAndGlyphs" transform="rotate(-45 387.30 471.90)">Test</text>
<text x="468.80" y="408.80" font-size="4.5" font-weight="bold" text-anchor="middle" fill="#000" stroke="#000" stroke-width="0.15" >IL10</text>
<line x1="448.50" y1="436.00" x2="448.50" y2="436.50" stroke="#222" stroke-width="0.8" />
<line x1="442.45" y1="436.50" x2="454.45" y2="436.50" stroke="#222" stroke-width="0.8" />
<rect x="437.60" y="436.70" width="21.70" height="28.70" fill="#9a9a9a" stroke="#2e2e2e" stroke-width="0.9"/>
<line x1="448.50" y1="465.40" x2="448.50" y2="467.20" stroke="#222" stroke-width="0.7" />
<line x1="481.50" y1="452.70" x2="481.50" y2="453.40" stroke="#222" stroke-width="0.8" />
<line x1="475.60" y1="452.50" x2="487.60" y2="452.50" stroke="#222" stroke-width="0.8" />
<rect x="470.60" y="453.60" width="22.00" height="11.80" fill="#9a9a9a" stroke="#2e2e2e" stroke-width="0.9"/>
<line x1="481.50" y1="465.40" x2="481.50" y2="467.20" stroke="#222" stroke-width="0.7" />
<line x1="431.50" y1="421.70" x2="431.50" y2="465.80" stroke="#222" stroke-width="0.8" />
<line x1="430.90" y1="465.50" x2="499.20" y2="465.50" stroke="#222" stroke-width="0.8" />
<line x1="429.40" y1="465.50" x2="431.20" y2="465.50" stroke="#222" stroke-width="0.7" />
<text x="429.20" y="467.10" font-size="4.8" font-weight="bold" text-anchor="end" fill="#000" stroke="#000" stroke-width="0.12" >0.0</text>
<line x1="429.40" y1="450.50" x2="431.20" y2="450.50" stroke="#222" stroke-width="0.7" />
<text x="429.20" y="452.63" font-size="4.8" font-weight="bold" text-anchor="end" fill="#000" stroke="#000" stroke-width="0.12" >0.5</text>
<line x1="429.40" y1="436.50" x2="431.20" y2="436.50" stroke="#222" stroke-width="0.7" />
<text x="429.20" y="438.17" font-size="4.8" font-weight="bold" text-anchor="end" fill="#000" stroke="#000" stroke-width="0.12" >1.0</text>
<line x1="429.40" y1="422.50" x2="431.20" y2="422.50" stroke="#222" stroke-width="0.7" />
<text x="429.20" y="423.70" font-size="4.8" font-weight="bold" text-anchor="end" fill="#000" stroke="#000" stroke-width="0.12" >1.5</text>
<text x="416.30" y="443.70" font-size="5.1" font-weight="bold" text-anchor="middle" fill="#000" stroke="#000" stroke-width="0.12" textLength="45.00" lengthAdjust="spacingAndGlyphs" transform="rotate(-90 416.30 443.70)" >mRNA Expression</text>
<text x="421.70" y="443.70" font-size="5.1" font-weight="bold" text-anchor="middle" fill="#000" stroke="#000" stroke-width="0.12" textLength="41.00" lengthAdjust="spacingAndGlyphs" transform="rotate(-90 421.70 443.70)" >relative to 36B4</text>
<text x="451.00" y="471.90" font-size="5.5" font-weight="bold" stroke="#000" stroke-width="0.2" text-anchor="end" textLength="17.6" lengthAdjust="spacingAndGlyphs" transform="rotate(-45 451.00 471.90)">Control</text>
<text x="483.50" y="471.90" font-size="5.5" font-weight="bold" stroke="#000" stroke-width="0.2" text-anchor="end" textLength="9.9" lengthAdjust="spacingAndGlyphs" transform="rotate(-45 483.50 471.90)">Test</text>
<text x="266.50" y="493.60" font-size="4.5" font-weight="bold" text-anchor="middle" fill="#000" stroke="#000" stroke-width="0.15" >TGFβ</text>
<line x1="256.50" y1="515.80" x2="256.50" y2="516.50" stroke="#222" stroke-width="0.8" />
<line x1="250.45" y1="515.50" x2="262.45" y2="515.50" stroke="#222" stroke-width="0.8" />
<rect x="245.70" y="516.70" width="21.50" height="28.60" fill="#9a9a9a" stroke="#2e2e2e" stroke-width="0.9"/>
<line x1="256.50" y1="545.30" x2="256.50" y2="547.10" stroke="#222" stroke-width="0.7" />
<rect x="278.70" y="531.70" width="22.00" height="13.60" fill="#9a9a9a" stroke="#2e2e2e" stroke-width="0.9"/>
<line x1="289.50" y1="545.30" x2="289.50" y2="547.10" stroke="#222" stroke-width="0.7" />
<line x1="239.50" y1="500.90" x2="239.50" y2="545.70" stroke="#222" stroke-width="0.8" />
<line x1="239.40" y1="545.50" x2="306.20" y2="545.50" stroke="#222" stroke-width="0.8" />
<line x1="237.90" y1="545.50" x2="239.70" y2="545.50" stroke="#222" stroke-width="0.7" />
<text x="237.70" y="547.00" font-size="4.8" font-weight="bold" text-anchor="end" fill="#000" stroke="#000" stroke-width="0.12" >0.0</text>
<line x1="237.90" y1="530.50" x2="239.70" y2="530.50" stroke="#222" stroke-width="0.7" />
<text x="237.70" y="532.30" font-size="4.8" font-weight="bold" text-anchor="end" fill="#000" stroke="#000" stroke-width="0.12" >0.5</text>
<line x1="237.90" y1="515.50" x2="239.70" y2="515.50" stroke="#222" stroke-width="0.7" />
<text x="237.70" y="517.60" font-size="4.8" font-weight="bold" text-anchor="end" fill="#000" stroke="#000" stroke-width="0.12" >1.0</text>
<line x1="237.90" y1="501.50" x2="239.70" y2="501.50" stroke="#222" stroke-width="0.7" />
<text x="237.70" y="502.90" font-size="4.8" font-weight="bold" text-anchor="end" fill="#000" stroke="#000" stroke-width="0.12" >1.5</text>
<text x="223.90" y="523.25" font-size="5.1" font-weight="bold" text-anchor="middle" fill="#000" stroke="#000" stroke-width="0.12" textLength="45.00" lengthAdjust="spacingAndGlyphs" transform="rotate(-90 223.90 523.25)" >mRNA Expression</text>
<text x="229.30" y="523.25" font-size="5.1" font-weight="bold" text-anchor="middle" fill="#000" stroke="#000" stroke-width="0.12" textLength="41.00" lengthAdjust="spacingAndGlyphs" transform="rotate(-90 229.30 523.25)" >relative to 36B4</text>
<text x="258.40" y="551.80" font-size="5.5" font-weight="bold" stroke="#000" stroke-width="0.2" text-anchor="end" textLength="17.6" lengthAdjust="spacingAndGlyphs" transform="rotate(-45 258.40 551.80)">Control</text>
<text x="291.10" y="551.80" font-size="5.5" font-weight="bold" stroke="#000" stroke-width="0.2" text-anchor="end" textLength="9.9" lengthAdjust="spacingAndGlyphs" transform="rotate(-45 291.10 551.80)">Test</text>
<text x="363.50" y="495.00" font-size="4.5" font-weight="bold" text-anchor="middle" fill="#000" stroke="#000" stroke-width="0.15" >MRC2</text>
<line x1="347.50" y1="505.00" x2="347.50" y2="515.00" stroke="#222" stroke-width="0.8" />
<line x1="341.75" y1="505.50" x2="353.75" y2="505.50" stroke="#222" stroke-width="0.8" />
<rect x="336.70" y="515.20" width="22.10" height="30.10" fill="#9a9a9a" stroke="#2e2e2e" stroke-width="0.9"/>
<line x1="347.50" y1="545.30" x2="347.50" y2="547.10" stroke="#222" stroke-width="0.7" />
<line x1="380.50" y1="525.70" x2="380.50" y2="526.60" stroke="#222" stroke-width="0.8" />
<line x1="374.50" y1="525.50" x2="386.50" y2="525.50" stroke="#222" stroke-width="0.8" />
<rect x="369.70" y="526.80" width="21.60" height="18.50" fill="#9a9a9a" stroke="#2e2e2e" stroke-width="0.9"/>
<line x1="380.50" y1="545.30" x2="380.50" y2="547.10" stroke="#222" stroke-width="0.7" />
<line x1="330.50" y1="501.70" x2="330.50" y2="545.70" stroke="#222" stroke-width="0.8" />
<line x1="330.50" y1="545.50" x2="397.20" y2="545.50" stroke="#222" stroke-width="0.8" />
<line x1="329.00" y1="545.50" x2="330.80" y2="545.50" stroke="#222" stroke-width="0.7" />
<text x="328.80" y="547.00" font-size="4.8" font-weight="bold" text-anchor="end" fill="#000" stroke="#000" stroke-width="0.12" >0.0</text>
<line x1="329.00" y1="530.50" x2="330.80" y2="530.50" stroke="#222" stroke-width="0.7" />
<text x="328.80" y="532.57" font-size="4.8" font-weight="bold" text-anchor="end" fill="#000" stroke="#000" stroke-width="0.12" >0.5</text>
<line x1="329.00" y1="516.50" x2="330.80" y2="516.50" stroke="#222" stroke-width="0.7" />
<text x="328.80" y="518.13" font-size="4.8" font-weight="bold" text-anchor="end" fill="#000" stroke="#000" stroke-width="0.12" >1.0</text>
<line x1="329.00" y1="502.50" x2="330.80" y2="502.50" stroke="#222" stroke-width="0.7" />
<text x="328.80" y="503.70" font-size="4.8" font-weight="bold" text-anchor="end" fill="#000" stroke="#000" stroke-width="0.12" >1.5</text>
<text x="316.10" y="523.65" font-size="5.1" font-weight="bold" text-anchor="middle" fill="#000" stroke="#000" stroke-width="0.12" textLength="45.00" lengthAdjust="spacingAndGlyphs" transform="rotate(-90 316.10 523.65)" >mRNA Expression</text>
<text x="321.50" y="523.65" font-size="5.1" font-weight="bold" text-anchor="middle" fill="#000" stroke="#000" stroke-width="0.12" textLength="41.00" lengthAdjust="spacingAndGlyphs" transform="rotate(-90 321.50 523.65)" >relative to 36B4</text>
<text x="349.90" y="551.20" font-size="5.5" font-weight="bold" stroke="#000" stroke-width="0.2" text-anchor="end" textLength="17.6" lengthAdjust="spacingAndGlyphs" transform="rotate(-45 349.90 551.20)">Control</text>
<text x="381.90" y="551.20" font-size="5.5" font-weight="bold" stroke="#000" stroke-width="0.2" text-anchor="end" textLength="9.9" lengthAdjust="spacingAndGlyphs" transform="rotate(-45 381.90 551.20)">Test</text>
<text x="450.30" y="495.00" font-size="4.5" font-weight="bold" text-anchor="middle" fill="#000" stroke="#000" stroke-width="0.15" >PDL2</text>
<line x1="439.50" y1="514.60" x2="439.50" y2="515.00" stroke="#222" stroke-width="0.8" />
<line x1="433.50" y1="514.50" x2="445.50" y2="514.50" stroke="#222" stroke-width="0.8" />
<rect x="428.40" y="515.20" width="22.20" height="29.40" fill="#9a9a9a" stroke="#2e2e2e" stroke-width="0.9"/>
<line x1="439.50" y1="544.60" x2="439.50" y2="546.40" stroke="#222" stroke-width="0.7" />
<line x1="472.50" y1="541.60" x2="472.50" y2="542.30" stroke="#222" stroke-width="0.8" />
<line x1="466.35" y1="541.50" x2="478.35" y2="541.50" stroke="#222" stroke-width="0.8" />
<rect x="461.40" y="542.50" width="21.90" height="2.10" fill="#9a9a9a" stroke="#2e2e2e" stroke-width="0.9"/>
<line x1="472.50" y1="544.60" x2="472.50" y2="546.40" stroke="#222" stroke-width="0.7" />
<line x1="422.50" y1="500.90" x2="422.50" y2="545.00" stroke="#222" stroke-width="0.8" />
<line x1="422.10" y1="544.50" x2="489.50" y2="544.50" stroke="#222" stroke-width="0.8" />
<line x1="420.60" y1="544.50" x2="422.40" y2="544.50" stroke="#222" stroke-width="0.7" />
<text x="420.40" y="546.30" font-size="4.8" font-weight="bold" text-anchor="end" fill="#000" stroke="#000" stroke-width="0.12" >0.0</text>
<line x1="420.60" y1="530.50" x2="422.40" y2="530.50" stroke="#222" stroke-width="0.7" />
<text x="420.40" y="531.83" font-size="4.8" font-weight="bold" text-anchor="end" fill="#000" stroke="#000" stroke-width="0.12" >0.5</text>
<line x1="420.60" y1="515.50" x2="422.40" y2="515.50" stroke="#222" stroke-width="0.7" />
<text x="420.40" y="517.37" font-size="4.8" font-weight="bold" text-anchor="end" fill="#000" stroke="#000" stroke-width="0.12" >1.0</text>
<line x1="420.60" y1="501.50" x2="422.40" y2="501.50" stroke="#222" stroke-width="0.7" />
<text x="420.40" y="502.90" font-size="4.8" font-weight="bold" text-anchor="end" fill="#000" stroke="#000" stroke-width="0.12" >1.5</text>
<text x="406.90" y="522.90" font-size="5.1" font-weight="bold" text-anchor="middle" fill="#000" stroke="#000" stroke-width="0.12" textLength="45.00" lengthAdjust="spacingAndGlyphs" transform="rotate(-90 406.90 522.90)" >mRNA Expression</text>
<text x="412.30" y="522.90" font-size="5.1" font-weight="bold" text-anchor="middle" fill="#000" stroke="#000" stroke-width="0.12" textLength="41.00" lengthAdjust="spacingAndGlyphs" transform="rotate(-90 412.30 522.90)" >relative to 36B4</text>
<text x="441.70" y="550.70" font-size="5.5" font-weight="bold" stroke="#000" stroke-width="0.2" text-anchor="end" textLength="17.6" lengthAdjust="spacingAndGlyphs" transform="rotate(-45 441.70 550.70)">Control</text>
<text x="474.20" y="550.70" font-size="5.5" font-weight="bold" stroke="#000" stroke-width="0.2" text-anchor="end" textLength="9.9" lengthAdjust="spacingAndGlyphs" transform="rotate(-45 474.20 550.70)">Test</text>
<text x="268.80" y="576.60" font-size="4.5" font-weight="bold" text-anchor="middle" fill="#000" stroke="#000" stroke-width="0.15" >MMP9</text>
<line x1="258.50" y1="592.30" x2="258.50" y2="597.60" stroke="#222" stroke-width="0.8" />
<line x1="252.65" y1="592.50" x2="264.65" y2="592.50" stroke="#222" stroke-width="0.8" />
<rect x="247.50" y="597.80" width="22.30" height="30.70" fill="#9a9a9a" stroke="#2e2e2e" stroke-width="0.9"/>
<line x1="258.50" y1="628.50" x2="258.50" y2="630.30" stroke="#222" stroke-width="0.7" />
<line x1="292.50" y1="603.80" x2="292.50" y2="605.50" stroke="#222" stroke-width="0.8" />
<line x1="286.90" y1="603.50" x2="298.90" y2="603.50" stroke="#222" stroke-width="0.8" />
<rect x="281.00" y="605.70" width="23.80" height="22.80" fill="#9a9a9a" stroke="#2e2e2e" stroke-width="0.9"/>
<line x1="292.50" y1="628.50" x2="292.50" y2="630.30" stroke="#222" stroke-width="0.7" />
<line x1="240.50" y1="582.30" x2="240.50" y2="628.90" stroke="#222" stroke-width="0.8" />
<line x1="240.50" y1="628.50" x2="308.50" y2="628.50" stroke="#222" stroke-width="0.8" />
<line x1="239.00" y1="628.50" x2="240.80" y2="628.50" stroke="#222" stroke-width="0.7" />
<text x="238.80" y="630.20" font-size="4.8" font-weight="bold" text-anchor="end" fill="#000" stroke="#000" stroke-width="0.12" >0.0</text>
<line x1="239.00" y1="613.50" x2="240.80" y2="613.50" stroke="#222" stroke-width="0.7" />
<text x="238.80" y="614.90" font-size="4.8" font-weight="bold" text-anchor="end" fill="#000" stroke="#000" stroke-width="0.12" >0.5</text>
<line x1="239.00" y1="597.50" x2="240.80" y2="597.50" stroke="#222" stroke-width="0.7" />
<text x="238.80" y="599.60" font-size="4.8" font-weight="bold" text-anchor="end" fill="#000" stroke="#000" stroke-width="0.12" >1.0</text>
<line x1="239.00" y1="582.50" x2="240.80" y2="582.50" stroke="#222" stroke-width="0.7" />
<text x="238.80" y="584.30" font-size="4.8" font-weight="bold" text-anchor="end" fill="#000" stroke="#000" stroke-width="0.12" >1.5</text>
<text x="224.90" y="605.55" font-size="5.1" font-weight="bold" text-anchor="middle" fill="#000" stroke="#000" stroke-width="0.12" textLength="45.00" lengthAdjust="spacingAndGlyphs" transform="rotate(-90 224.90 605.55)" >mRNA Expression</text>
<text x="230.30" y="605.55" font-size="5.1" font-weight="bold" text-anchor="middle" fill="#000" stroke="#000" stroke-width="0.12" textLength="41.00" lengthAdjust="spacingAndGlyphs" transform="rotate(-90 230.30 605.55)" >relative to 36B4</text>
<text x="260.70" y="635.30" font-size="5.5" font-weight="bold" stroke="#000" stroke-width="0.2" text-anchor="end" textLength="17.6" lengthAdjust="spacingAndGlyphs" transform="rotate(-45 260.70 635.30)">Control</text>
<text x="294.50" y="635.30" font-size="5.5" font-weight="bold" stroke="#000" stroke-width="0.2" text-anchor="end" textLength="9.9" lengthAdjust="spacingAndGlyphs" transform="rotate(-45 294.50 635.30)">Test</text>
<text x="366.50" y="578.20" font-size="4.5" font-weight="bold" text-anchor="middle" fill="#000" stroke="#000" stroke-width="0.15" >IL12A</text>
<rect x="344.80" y="626.40" width="22.20" height="2.40" fill="#9a9a9a" stroke="#2e2e2e" stroke-width="0.9"/>
<line x1="355.50" y1="628.80" x2="355.50" y2="630.60" stroke="#222" stroke-width="0.7" />
<line x1="390.50" y1="590.50" x2="390.50" y2="597.00" stroke="#222" stroke-width="0.8" />
<line x1="384.35" y1="590.50" x2="396.35" y2="590.50" stroke="#222" stroke-width="0.8" />
<rect x="379.00" y="597.20" width="22.70" height="31.60" fill="#9a9a9a" stroke="#2e2e2e" stroke-width="0.9"/>
<line x1="390.50" y1="628.80" x2="390.50" y2="630.60" stroke="#222" stroke-width="0.7" />
<line x1="338.50" y1="582.70" x2="338.50" y2="629.20" stroke="#222" stroke-width="0.8" />
<line x1="338.50" y1="628.50" x2="409.20" y2="628.50" stroke="#222" stroke-width="0.8" />
<line x1="337.00" y1="628.50" x2="338.80" y2="628.50" stroke="#222" stroke-width="0.7" />
<text x="336.80" y="630.50" font-size="4.8" font-weight="bold" text-anchor="end" fill="#000" stroke="#000" stroke-width="0.12" >0</text>
<line x1="337.00" y1="613.50" x2="338.80" y2="613.50" stroke="#222" stroke-width="0.7" />
<text x="336.80" y="615.23" font-size="4.8" font-weight="bold" text-anchor="end" fill="#000" stroke="#000" stroke-width="0.12" >5</text>
<line x1="337.00" y1="598.50" x2="338.80" y2="598.50" stroke="#222" stroke-width="0.7" />
<text x="336.80" y="599.97" font-size="4.8" font-weight="bold" text-anchor="end" fill="#000" stroke="#000" stroke-width="0.12" >10</text>
<line x1="337.00" y1="583.50" x2="338.80" y2="583.50" stroke="#222" stroke-width="0.7" />
<text x="336.80" y="584.70" font-size="4.8" font-weight="bold" text-anchor="end" fill="#000" stroke="#000" stroke-width="0.12" >15</text>
<text x="324.10" y="605.90" font-size="5.1" font-weight="bold" text-anchor="middle" fill="#000" stroke="#000" stroke-width="0.12" textLength="45.00" lengthAdjust="spacingAndGlyphs" transform="rotate(-90 324.10 605.90)" >mRNA Expression</text>
<text x="329.50" y="605.90" font-size="5.1" font-weight="bold" text-anchor="middle" fill="#000" stroke="#000" stroke-width="0.12" textLength="41.00" lengthAdjust="spacingAndGlyphs" transform="rotate(-90 329.50 605.90)" >relative to 36B4</text>
<text x="358.00" y="635.80" font-size="5.5" font-weight="bold" stroke="#000" stroke-width="0.2" text-anchor="end" textLength="17.6" lengthAdjust="spacingAndGlyphs" transform="rotate(-45 358.00 635.80)">Control</text>
<text x="391.90" y="635.80" font-size="5.5" font-weight="bold" stroke="#000" stroke-width="0.2" text-anchor="end" textLength="9.9" lengthAdjust="spacingAndGlyphs" transform="rotate(-45 391.90 635.80)">Test</text>
</g>
</svg>
</body>
</html>
